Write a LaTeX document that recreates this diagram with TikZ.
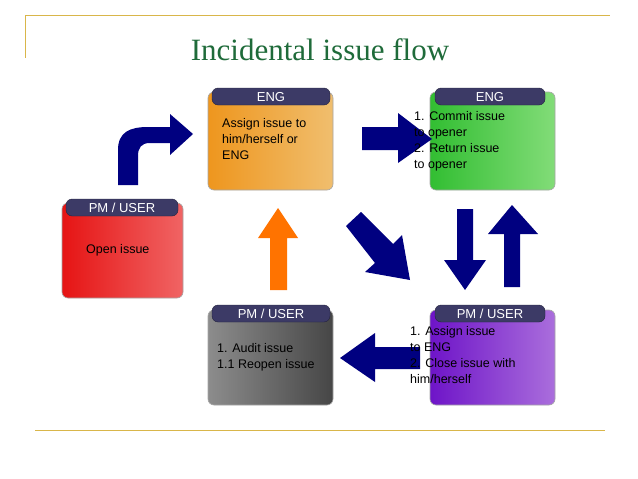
\documentclass[tikz,border=0pt]{standalone}
\usepackage{fontspec}
\setmainfont{Liberation Sans}
\newfontfamily\titlefont{Liberation Serif}
\begin{document}
\begin{tikzpicture}[x=1pt,y=-1pt,
  box/.style={draw=gray!70,rounded corners=6pt,line width=0.6pt},
  tab/.style={fill=tabc,draw=tabc!60!black,rounded corners=6pt},
  tabt/.style={text=white,font=\fontsize{13}{13}\selectfont},
  bt/.style={anchor=north west,align=left,font=\fontsize{12.5}{16}\selectfont,inner sep=0pt},
  arr/.style={fill=navy}]
\definecolor{tabc}{HTML}{3C3A66}
\definecolor{navy}{HTML}{000080}
\definecolor{gold}{HTML}{D9B64A}
\definecolor{tgreen}{HTML}{1F6B3A}
\useasboundingbox (0,0) rectangle (638,479);
\fill[white] (0,0) rectangle (638,479);
\draw[gold,line width=1pt] (25,15) -- (610,15);
\draw[gold,line width=1pt] (25,15) -- (25,58);
\draw[gold,line width=1pt] (35,430) -- (605,430);
\node[text=tgreen,font=\titlefont\fontsize{31}{31}\selectfont] (title) at (320,50) {Incidental issue flow};
% boxes
\shade[box,left color={rgb,255:red,238;green,150;blue,30},right color={rgb,255:red,240;green,190;blue,110}] (208,92) rectangle (333,190);
\shade[box,left color={rgb,255:red,50;green,190;blue,50},right color={rgb,255:red,130;green,220;blue,120}] (430,92) rectangle (555,190);
\shade[box,left color={rgb,255:red,230;green,20;blue,20},right color={rgb,255:red,240;green,100;blue,100}] (62,203) rectangle (183,298);
\shade[box,left color=gray!90,right color=gray!55!black] (208,310) rectangle (333,405);
\shade[box,left color={rgb,255:red,110;green,20;blue,200},right color={rgb,255:red,170;green,110;blue,220}] (430,310) rectangle (555,405);
% tabs
\filldraw[tab] (212,88) rectangle (330,105); \node[tabt] (t1) at (271,97) {ENG};
\filldraw[tab] (435,88) rectangle (545,105); \node[tabt] (t2) at (490,97) {ENG};
\filldraw[tab] (66,199) rectangle (178,216); \node[tabt] (t3) at (122,208) {PM / USER};
\filldraw[tab] (212,305) rectangle (330,322); \node[tabt] (t4) at (271,314) {PM / USER};
\filldraw[tab] (435,305) rectangle (545,322); \node[tabt] (t5) at (490,314) {PM / USER};
% texts
\node[bt] (x1) at (222,118) {Assign issue to\\him/herself or\\ENG};
\node[bt] (x3) at (86,244) {Open issue};
\node[bt] (x4) at (217,343) {1. Audit issue\\1.1 Reopen issue};
% arrows
\fill[arr] (118,185) -- (118,150) .. controls (118,132) and (130,127) .. (148,127) -- (170,127) -- (170,114) -- (193,134) -- (170,155) -- (170,143) -- (150,143) .. controls (141,143) and (138,148) .. (138,156) -- (138,185) -- cycle;
\fill[arr] (362,127) -- (398,127) -- (398,113) -- (432,139) -- (398,163) -- (398,150) -- (362,150) -- cycle;
\fill[arr] (346,226) -- (361,212) -- (393,244) -- (402,235) -- (410,280) -- (365,272) -- (375,263) -- cycle;
\fill[arr] (457,209) -- (473,209) -- (473,260) -- (486,260) -- (465,290) -- (444,260) -- (457,260) -- cycle;
\fill[arr] (504,287) -- (520,287) -- (520,234) -- (538,234) -- (512,205) -- (488,234) -- (504,234) -- cycle;
\fill[arr] (420,347) -- (375,347) -- (375,333) -- (340,358) -- (375,382) -- (375,369) -- (420,369) -- cycle;
\fill[orange!90!red] (270,290) -- (287,290) -- (287,238) -- (298,238) -- (278,208) -- (258,238) -- (270,238) -- cycle;
\node[bt] (x2) at (414,111) {1. Commit issue\\to opener\\2. Return issue\\to opener};
\node[bt] (x5) at (410,326) {1. Assign issue\\to ENG\\2. Close issue with\\him/herself};
\end{tikzpicture}
\end{document}
